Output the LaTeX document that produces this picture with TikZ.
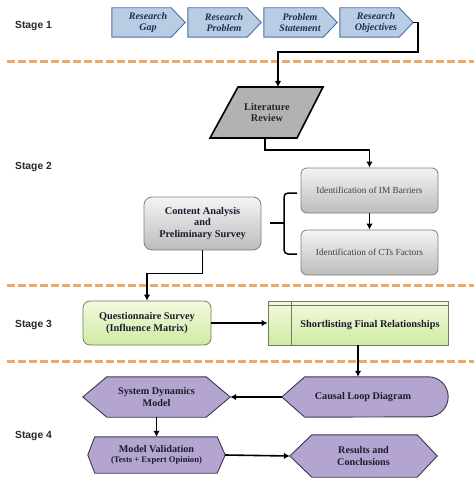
\documentclass[tikz,border=0pt]{standalone}
\usepackage{fontspec}
\setmainfont{Liberation Serif}
\newfontfamily\stagefont{Liberation Sans}
\usetikzlibrary{arrows.meta,calc,backgrounds}
\definecolor{dashorange}{HTML}{F0A868}
\definecolor{chevfill}{HTML}{B8CCE4}
\definecolor{chevdraw}{HTML}{4A6FA5}
\definecolor{chevtext}{HTML}{1F2F4F}
\definecolor{graytop}{HTML}{F4F4F4}
\definecolor{graybot}{HTML}{BCBCBC}
\definecolor{graydraw}{HTML}{7F7F7F}
\definecolor{litfill}{HTML}{B2B2B2}
\definecolor{greentop}{HTML}{F3FADF}
\definecolor{greenbot}{HTML}{D0EAA2}
\definecolor{greendraw}{HTML}{6E7F55}
\definecolor{purpfill}{HTML}{B3A5CF}
\definecolor{purpdraw}{HTML}{3F3550}
\definecolor{darktext}{HTML}{1E1A2E}
\begin{document}
\begin{tikzpicture}[x=1pt,y=-1pt,
  stagelabel/.style={anchor=west,inner sep=0,font=\stagefont\bfseries\fontsize{10.3}{12}\selectfont,text=black!85},
  sep/.style={dashorange,line width=3pt,dash pattern=on 8pt off 3pt},
  chevbox/.style={inner sep=0,align=center,text=chevtext,font=\bfseries\itshape\fontsize{10}{11}\selectfont,minimum width=72,minimum height=29},
  chev/.style={fill=chevfill,draw=chevdraw,line width=0.9pt},
  conn/.style={line width=1.6pt,-{Latex[length=6pt,width=6.5pt]}},
  graybox/.style={draw=graydraw,line width=0.8pt,rounded corners=6pt,top color=graytop,bottom color=graybot,align=center,inner sep=0},
  greenbox/.style={draw=greendraw,line width=0.8pt,top color=greentop,bottom color=greenbot,align=center,inner sep=0},
  purp/.style={fill=purpfill,draw=purpdraw,line width=0.9pt},
  purptext/.style={inner sep=0,align=center,text=darktext,font=\bfseries\fontsize{10.2}{11.5}\selectfont},
  boldtext/.style={font=\bfseries\fontsize{10.3}{11.8}\selectfont,text=darktext},
  smalltext/.style={font=\fontsize{9.3}{10.5}\selectfont,text=black!75}
]
\useasboundingbox (0,0) rectangle (474,481);

% stage labels
\node[stagelabel] (s1) at (15,26) {Stage 1};
\node[stagelabel] (s2) at (15,167) {Stage 2};
\node[stagelabel] (s3) at (15,325) {Stage 3};
\node[stagelabel] (s4) at (15,436) {Stage 4};

% separators
\draw[sep] (7,62) -- (474,62);
\draw[sep] (7,285) -- (474,285);
\draw[sep] (7,361) -- (474,361);

% stage 1 chevrons
\node[chevbox] (gap) at (148,22.5) {Research\\Gap};
\node[chevbox] (prob) at (224,22.5) {Research\\Problem};
\node[chevbox] (stmt) at (300,22.5) {Problem\\Statement};
\node[chevbox] (obj) at (376,22.5) {Research\\Objectives};
\begin{scope}[on background layer]
\foreach \n in {gap,prob,stmt,obj}{
  \path[chev] (\n.north west) -- ([xshift=-13pt]\n.north east) -- ([xshift=1pt]\n.east) -- ([xshift=-13pt]\n.south east) -- (\n.south west) -- cycle;
}
\end{scope}

% literature review
\node[inner sep=0,align=center,boldtext,text=black!85] (lit) at (267,112.5) {Literature\\Review};
\coordinate (litin) at (278,87);
\coordinate (litout) at (265,138);
\coordinate (bend1) at (418,52);
\begin{scope}[on background layer]
\path[fill=litfill,draw=black,line width=1.6pt,line join=miter] (238,87) -- (323,87) -- (297,138) -- (210,138) -- cycle;
\end{scope}

% stage 2 boxes
\node[graybox,smalltext,minimum width=137,minimum height=45] (im) at (369.5,190.5) {Identification of IM Barriers};
\node[graybox,smalltext,minimum width=137,minimum height=45] (cts) at (369.5,252.5) {Identification of CTs Factors};
\node[graybox,boldtext,minimum width=117,minimum height=53,rounded corners=8pt] (content) at (202.5,223.5) {Content Analysis\\and\\Preliminary Survey};

% brace
\draw[line width=1.5pt,rounded corners=4pt] (297,193) -- (284,193) -- (284,223) -- (284,254) -- (297,254);
\draw[line width=1.5pt] (284,223) -- (270,223);

% stage 3
\node[greenbox,boldtext,rounded corners=7pt,minimum width=128,minimum height=44] (quest) at (147,323) {Questionnaire Survey\\(Influence Matrix)};
\node[greenbox,minimum width=180,minimum height=44] (short) at (358,323) {};
\draw[draw=greendraw,line width=0.8pt] ([yshift=-5pt]short.north west) -- ([yshift=-5pt]short.north east);
\draw[draw=greendraw,line width=0.8pt] ([xshift=24pt]short.north west) -- ([xshift=24pt]short.south west);
\node[inner sep=0,boldtext] (shorttext) at (370,325.5) {Shortlisting Final Relationships};

% stage 4
\node[purptext,minimum width=166,minimum height=40] (cld) at (365,397) {\hspace*{-4pt}Causal Loop Diagram};
\node[purptext,minimum width=147,minimum height=40] (sdm) at (156.5,397) {System Dynamics\\Model};
\node[purptext,minimum width=137,minimum height=36] (mv) at (156.5,455) {Model Validation\\[-1pt]{\fontsize{8.6}{9.5}\selectfont(Tests + Expert Opinion)}};
\node[purptext,minimum width=147,minimum height=42] (res) at (363.5,456) {Results and\\Conclusions};
\begin{scope}[on background layer]
\path[purp] (cld.west) -- ([xshift=23pt]cld.north west) -- ([xshift=-20pt]cld.north east) arc[start angle=90,end angle=-90,radius=20pt] -- ([xshift=23pt]cld.south west) -- cycle;
\path[purp] (sdm.west) -- ([xshift=24pt]sdm.north west) -- ([xshift=-24pt]sdm.north east) -- (sdm.east) -- ([xshift=-24pt]sdm.south east) -- ([xshift=24pt]sdm.south west) -- cycle;
\path[purp] (mv.west) -- ([xshift=7pt]mv.north west) -- ([xshift=-8pt]mv.north east) -- (mv.east) -- ([xshift=-8pt]mv.south east) -- ([xshift=7pt]mv.south west) -- cycle;
\path[purp] (res.west) -- ([xshift=22pt]res.north west) -- ([xshift=-20pt]res.north east) -- (res.east) -- ([xshift=-20pt]res.south east) -- ([xshift=22pt]res.south west) -- cycle;
\end{scope}

% connectors
\draw[conn] ([xshift=1pt]obj.east) -| (bend1) -| (litin);
\draw[conn] (litout) -- ++(0,12) -| (im.north);
\draw[conn] (im.south) -- (cts.north);
\draw[conn] (content.south) -- ++(0,23) -| (quest.north);
\draw[conn] (quest.east) -- (short.west);
\draw[conn] (short.south) -- (short.south |- cld.north);
\draw[conn] (cld.west) -- (sdm.east);
\draw[conn] (sdm.south) -- (mv.north);
\draw[conn] (mv.east) -- (res.west);
\end{tikzpicture}
\end{document}
